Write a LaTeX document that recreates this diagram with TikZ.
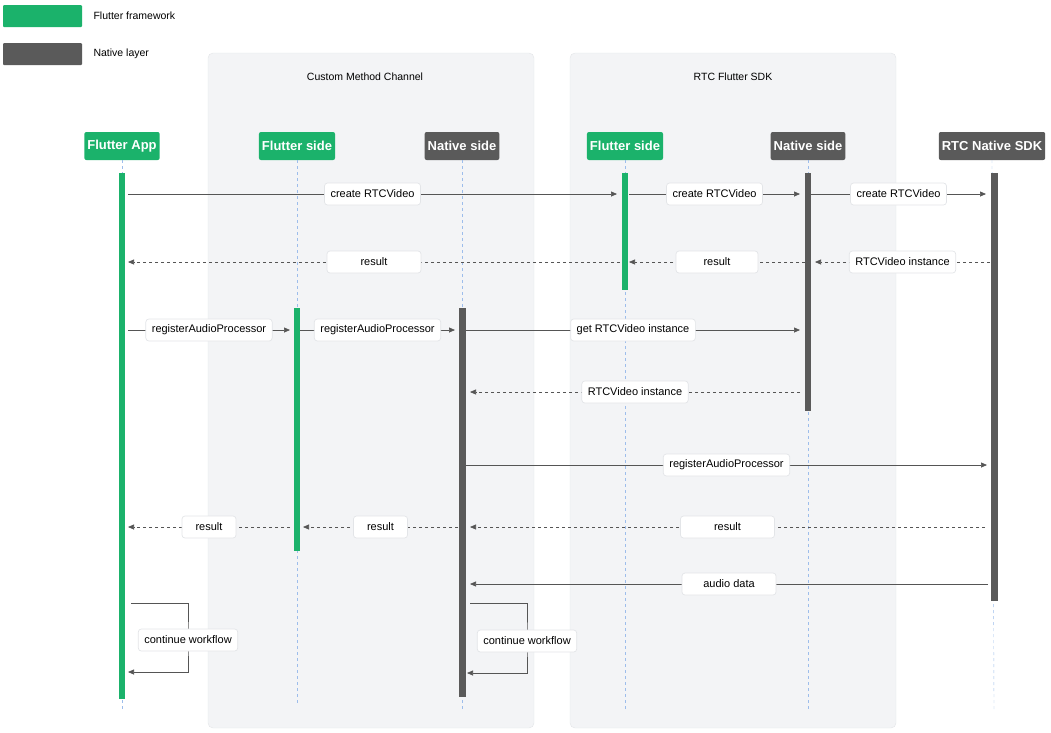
\documentclass[tikz,border=0pt]{standalone}
\usepackage{fontspec}
\setmainfont{Liberation Sans}
\usetikzlibrary{arrows.meta}
\definecolor{fg}{HTML}{1BB26B}
\definecolor{ng}{HTML}{5A5A5A}
\definecolor{grp}{HTML}{F3F4F6}
\definecolor{grpb}{HTML}{E3E5E8}
\definecolor{ll}{HTML}{9DBDEB}
\definecolor{ln}{HTML}{555555}
\begin{document}
\begin{tikzpicture}[x=1pt,y=-1pt,
 hdr/.style={rounded corners=2pt,text=white,font=\bfseries\fontsize{13}{15}\selectfont,minimum height=28pt,inner xsep=3pt},
 grpbox/.style={draw=grpb,fill=grp,rounded corners=5pt},
 life/.style={ll,dashed,thin},
 msg/.style={ln,-{Triangle[length=6pt,width=5pt]},line width=0.7pt},
 ret/.style={msg,dashed},
 lbl/.style={draw=grpb,solid,fill=white,rounded corners=3pt,font=\fontsize{11}{13}\selectfont,text=black,minimum height=22pt,inner xsep=6pt}]
\useasboundingbox (0,0) rectangle (1051,732);
% legend
\fill[fg,rounded corners=1pt] (3,5) rectangle (82,27);
\node[anchor=west,font=\fontsize{10.5}{12}\selectfont] (lg1) at (90,16) {Flutter framework};
\fill[ng,rounded corners=1pt] (3,43) rectangle (82,65);
\node[anchor=west,font=\fontsize{10.5}{12}\selectfont] (lg2) at (90,54) {Native layer};
% groups
\draw[grpbox] (208,53) rectangle (534,728);
\node[font=\fontsize{10.5}{12}\selectfont] (g1) at (365,77) {Custom Method Channel};
\draw[grpbox] (570,53) rectangle (896,728);
\node[font=\fontsize{10.5}{12}\selectfont] (g2) at (733,77) {RTC Flutter SDK};
% headers
\node[hdr,fill=fg] (A) at (122,146) {Flutter App};
\node[hdr,fill=fg] (B) at (297,146) {Flutter side};
\node[hdr,fill=ng] (C) at (462,146) {Native side};
\node[hdr,fill=fg] (D) at (625,146) {Flutter side};
\node[hdr,fill=ng] (E) at (808,146) {Native side};
\node[hdr,fill=ng] (F) at (992,146) {RTC Native SDK};
% lifelines
\foreach \n/\x/\e in {A/122/710,B/297/705,C/462/712,D/625/712,E/808/712,F/994/712}
  {\coordinate (\n end) at (\x,\e); \draw[life] (\n.south) -- (\n end);}
% activations
\fill[fg] (119,173) rectangle (125,699);
\fill[fg] (294,308) rectangle (300,551);
\fill[ng] (459,308) rectangle (466,697);
\fill[fg] (622,173) rectangle (628,290);
\fill[ng] (805,173) rectangle (811,411);
\fill[ng] (991,173) rectangle (998,601);
% coordinates
\foreach \n/\a/\b in {a1/128/194,d1/617/194,d2/629/194,e1/800/194,e2/811/194,f1/986/194,
 f2/990/262,e3/815/262,e4/805/262,d3/629/262,d4/620/262,a2/128/262,
 a3/128/330,b1/290/330,b2/300/330,c1/455/330,c2/466/330,e5/800/330,
 e6/800/392,c3/470/392,c4/466/465,f3/987/465,
 f4/985/527,c5/470/527,c6/458/527,b3/303/527,b4/290/527,a4/128/527,
 f5/988/584,c7/470/584}
 \coordinate (\n) at (\a,\b);
\draw[msg] (a1) -- node[lbl]{create RTCVideo} (d1);
\draw[msg] (d2) -- node[lbl]{create RTCVideo} (e1);
\draw[msg] (e2) -- node[lbl]{create RTCVideo} (f1);
\draw[ret] (f2) -- node[lbl]{RTCVideo instance} (e3);
\draw[ret] (e4) -- node[lbl,minimum width=82pt]{result} (d3);
\draw[ret] (d4) -- node[lbl,minimum width=94pt]{result} (a2);
\draw[msg] (a3) -- node[lbl]{registerAudioProcessor} (b1);
\draw[msg] (b2) -- node[lbl]{registerAudioProcessor} (c1);
\draw[msg] (c2) -- node[lbl]{get RTCVideo instance} (e5);
\draw[ret] (e6) -- node[lbl]{RTCVideo instance} (c3);
\draw[msg] (c4) -- node[lbl]{registerAudioProcessor} (f3);
\draw[ret] (f4) -- node[lbl,minimum width=94pt]{result} (c5);
\draw[ret] (c6) -- node[lbl,minimum width=54pt]{result} (b3);
\draw[ret] (b4) -- node[lbl,minimum width=54pt]{result} (a4);
\draw[msg] (f5) -- node[lbl,minimum width=94pt]{audio data} (c7);
% self loops
\coordinate (s1) at (131,603); \coordinate (s1e) at (128,672);
\draw[msg] (s1) -| (188,640) node[lbl]{continue workflow} |- (s1e);
\coordinate (s2) at (470,603); \coordinate (s2e) at (467,673);
\draw[msg] (s2) -| (527,641) node[lbl]{continue workflow} |- (s2e);
\end{tikzpicture}
\end{document}
